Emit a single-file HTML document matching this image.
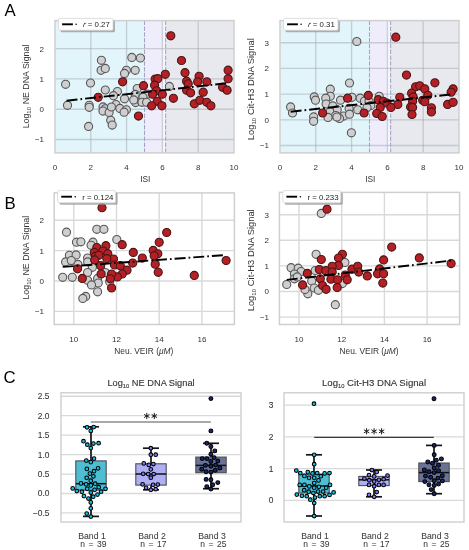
<!DOCTYPE html>
<html><head><meta charset="utf-8"><style>
html,body{margin:0;padding:0;background:#fff;width:469px;height:550px;overflow:hidden}
text{font-family:"Liberation Sans", sans-serif}
</style></head><body>
<svg width="469" height="550" viewBox="0 0 469 550" style="display:block;filter:blur(0.4px)" font-family='"Liberation Sans", sans-serif'>
<rect width="469" height="550" fill="#fff"/>
<text x="4.6" y="15.8" font-size="16.8" fill="#000">A</text>
<text x="4.6" y="209.0" font-size="16.8" fill="#000">B</text>
<text x="3.6" y="383.4" font-size="16.8" fill="#000">C</text>
<rect x="55" y="20.6" width="89.5" height="132.3" fill="#e1f5fa"/>
<rect x="144.5" y="20.6" width="17.9" height="132.3" fill="#efedfc"/>
<rect x="162.4" y="20.6" width="3.22" height="132.3" fill="#f7f6fd"/>
<rect x="165.62" y="20.6" width="68.38" height="132.3" fill="#e7e9ee"/>
<line x1="90.8" y1="20.6" x2="90.8" y2="152.9" stroke="#979ca3" stroke-opacity="0.42" stroke-width="1.35"/>
<line x1="126.6" y1="20.6" x2="126.6" y2="152.9" stroke="#979ca3" stroke-opacity="0.42" stroke-width="1.35"/>
<line x1="162.4" y1="20.6" x2="162.4" y2="152.9" stroke="#979ca3" stroke-opacity="0.42" stroke-width="1.35"/>
<line x1="198.2" y1="20.6" x2="198.2" y2="152.9" stroke="#979ca3" stroke-opacity="0.42" stroke-width="1.35"/>
<line x1="55" y1="48.6" x2="234" y2="48.6" stroke="#979ca3" stroke-opacity="0.42" stroke-width="1.35"/>
<line x1="55" y1="78.9" x2="234" y2="78.9" stroke="#979ca3" stroke-opacity="0.42" stroke-width="1.35"/>
<line x1="55" y1="109.2" x2="234" y2="109.2" stroke="#979ca3" stroke-opacity="0.42" stroke-width="1.35"/>
<line x1="55" y1="139.5" x2="234" y2="139.5" stroke="#979ca3" stroke-opacity="0.42" stroke-width="1.35"/>
<line x1="144.5" y1="20.6" x2="144.5" y2="152.9" stroke="#a2a5c6" stroke-width="1.05" stroke-dasharray="4.5 1.3"/>
<line x1="165.62" y1="20.6" x2="165.62" y2="152.9" stroke="#a2a5c6" stroke-width="1.05" stroke-dasharray="4.5 1.3"/>
<rect x="55" y="20.6" width="179" height="132.3" fill="none" stroke="#cfcfcf" stroke-width="1.5"/>
<circle cx="101.4" cy="60.3" r="4.05" fill="#cfcfd1" stroke="#575757" stroke-width="1.1"/>
<circle cx="101.1" cy="70.3" r="4.05" fill="#cfcfd1" stroke="#575757" stroke-width="1.1"/>
<circle cx="105.3" cy="68.4" r="4.05" fill="#cfcfd1" stroke="#575757" stroke-width="1.1"/>
<circle cx="131.8" cy="57.4" r="4.05" fill="#cfcfd1" stroke="#575757" stroke-width="1.1"/>
<circle cx="140.4" cy="58" r="4.05" fill="#cfcfd1" stroke="#575757" stroke-width="1.1"/>
<circle cx="126.4" cy="70.3" r="4.05" fill="#cfcfd1" stroke="#575757" stroke-width="1.1"/>
<circle cx="124.5" cy="73.4" r="4.05" fill="#cfcfd1" stroke="#575757" stroke-width="1.1"/>
<circle cx="135.2" cy="70.3" r="4.05" fill="#cfcfd1" stroke="#575757" stroke-width="1.1"/>
<circle cx="65.6" cy="84.3" r="4.05" fill="#cfcfd1" stroke="#575757" stroke-width="1.1"/>
<circle cx="90.5" cy="83" r="4.05" fill="#cfcfd1" stroke="#575757" stroke-width="1.1"/>
<circle cx="105.3" cy="90" r="4.05" fill="#cfcfd1" stroke="#575757" stroke-width="1.1"/>
<circle cx="117.4" cy="91.5" r="4.05" fill="#cfcfd1" stroke="#575757" stroke-width="1.1"/>
<circle cx="113.5" cy="95.7" r="4.05" fill="#cfcfd1" stroke="#575757" stroke-width="1.1"/>
<circle cx="137.2" cy="88.6" r="4.05" fill="#cfcfd1" stroke="#575757" stroke-width="1.1"/>
<circle cx="135.2" cy="94.4" r="4.05" fill="#cfcfd1" stroke="#575757" stroke-width="1.1"/>
<circle cx="124.5" cy="98.8" r="4.05" fill="#cfcfd1" stroke="#575757" stroke-width="1.1"/>
<circle cx="143.7" cy="96.3" r="4.05" fill="#cfcfd1" stroke="#575757" stroke-width="1.1"/>
<circle cx="67.5" cy="105.3" r="4.05" fill="#cfcfd1" stroke="#575757" stroke-width="1.1"/>
<circle cx="89.2" cy="105.3" r="4.05" fill="#cfcfd1" stroke="#575757" stroke-width="1.1"/>
<circle cx="89.2" cy="107.3" r="4.05" fill="#cfcfd1" stroke="#575757" stroke-width="1.1"/>
<circle cx="103" cy="106.9" r="4.05" fill="#cfcfd1" stroke="#575757" stroke-width="1.1"/>
<circle cx="105.3" cy="108.8" r="4.05" fill="#cfcfd1" stroke="#575757" stroke-width="1.1"/>
<circle cx="103" cy="111.1" r="4.05" fill="#cfcfd1" stroke="#575757" stroke-width="1.1"/>
<circle cx="109.1" cy="112.6" r="4.05" fill="#cfcfd1" stroke="#575757" stroke-width="1.1"/>
<circle cx="116" cy="104.6" r="4.05" fill="#cfcfd1" stroke="#575757" stroke-width="1.1"/>
<circle cx="119.9" cy="108.4" r="4.05" fill="#cfcfd1" stroke="#575757" stroke-width="1.1"/>
<circle cx="126.4" cy="109.8" r="4.05" fill="#cfcfd1" stroke="#575757" stroke-width="1.1"/>
<circle cx="124.1" cy="112.2" r="4.05" fill="#cfcfd1" stroke="#575757" stroke-width="1.1"/>
<circle cx="135.6" cy="102.6" r="4.05" fill="#cfcfd1" stroke="#575757" stroke-width="1.1"/>
<circle cx="141.4" cy="101.5" r="4.05" fill="#cfcfd1" stroke="#575757" stroke-width="1.1"/>
<circle cx="110.7" cy="120.3" r="4.05" fill="#cfcfd1" stroke="#575757" stroke-width="1.1"/>
<circle cx="112.2" cy="125.1" r="4.05" fill="#cfcfd1" stroke="#575757" stroke-width="1.1"/>
<circle cx="88.6" cy="126.4" r="4.05" fill="#cfcfd1" stroke="#575757" stroke-width="1.1"/>
<circle cx="169.4" cy="86.4" r="4.05" fill="#cfcfd1" stroke="#575757" stroke-width="1.1"/>
<circle cx="147.1" cy="94.2" r="4.05" fill="#cfcfd1" stroke="#575757" stroke-width="1.1"/>
<circle cx="143" cy="97.3" r="4.05" fill="#cfcfd1" stroke="#575757" stroke-width="1.1"/>
<circle cx="142" cy="102.3" r="4.05" fill="#cfcfd1" stroke="#575757" stroke-width="1.1"/>
<circle cx="133.7" cy="99.9" r="4.05" fill="#cfcfd1" stroke="#575757" stroke-width="1.1"/>
<circle cx="111.4" cy="107" r="4.05" fill="#cfcfd1" stroke="#575757" stroke-width="1.1"/>
<circle cx="146.6" cy="102.3" r="4.05" fill="#cfcfd1" stroke="#575757" stroke-width="1.1"/>
<circle cx="122.6" cy="81.8" r="4.05" fill="#b52026" stroke="#481616" stroke-width="1.1"/>
<circle cx="143.5" cy="85.7" r="4.05" fill="#b52026" stroke="#481616" stroke-width="1.1"/>
<circle cx="98.2" cy="97.3" r="4.05" fill="#b52026" stroke="#481616" stroke-width="1.1"/>
<circle cx="138.5" cy="116.1" r="4.05" fill="#b52026" stroke="#481616" stroke-width="1.1"/>
<circle cx="170.8" cy="35.8" r="4.05" fill="#b52026" stroke="#481616" stroke-width="1.1"/>
<circle cx="181.5" cy="60.5" r="4.05" fill="#b52026" stroke="#481616" stroke-width="1.1"/>
<circle cx="185" cy="72.7" r="4.05" fill="#b52026" stroke="#481616" stroke-width="1.1"/>
<circle cx="165.3" cy="74.3" r="4.05" fill="#b52026" stroke="#481616" stroke-width="1.1"/>
<circle cx="155.2" cy="79.1" r="4.05" fill="#b52026" stroke="#481616" stroke-width="1.1"/>
<circle cx="157.8" cy="78.7" r="4.05" fill="#b52026" stroke="#481616" stroke-width="1.1"/>
<circle cx="199.1" cy="76.3" r="4.05" fill="#b52026" stroke="#481616" stroke-width="1.1"/>
<circle cx="228.1" cy="70.2" r="4.05" fill="#b52026" stroke="#481616" stroke-width="1.1"/>
<circle cx="228.1" cy="78.7" r="4.05" fill="#b52026" stroke="#481616" stroke-width="1.1"/>
<circle cx="186.6" cy="81.2" r="4.05" fill="#b52026" stroke="#481616" stroke-width="1.1"/>
<circle cx="188.2" cy="83.8" r="4.05" fill="#b52026" stroke="#481616" stroke-width="1.1"/>
<circle cx="197.7" cy="81.8" r="4.05" fill="#b52026" stroke="#481616" stroke-width="1.1"/>
<circle cx="206.8" cy="81.8" r="4.05" fill="#b52026" stroke="#481616" stroke-width="1.1"/>
<circle cx="154.6" cy="85.2" r="4.05" fill="#b52026" stroke="#481616" stroke-width="1.1"/>
<circle cx="222.6" cy="87.3" r="4.05" fill="#b52026" stroke="#481616" stroke-width="1.1"/>
<circle cx="227.1" cy="90.2" r="4.05" fill="#b52026" stroke="#481616" stroke-width="1.1"/>
<circle cx="156.6" cy="90.8" r="4.05" fill="#b52026" stroke="#481616" stroke-width="1.1"/>
<circle cx="162.3" cy="94.2" r="4.05" fill="#b52026" stroke="#481616" stroke-width="1.1"/>
<circle cx="152.6" cy="94.2" r="4.05" fill="#b52026" stroke="#481616" stroke-width="1.1"/>
<circle cx="186.6" cy="90.2" r="4.05" fill="#b52026" stroke="#481616" stroke-width="1.1"/>
<circle cx="190.6" cy="92.8" r="4.05" fill="#b52026" stroke="#481616" stroke-width="1.1"/>
<circle cx="203.2" cy="92.2" r="4.05" fill="#b52026" stroke="#481616" stroke-width="1.1"/>
<circle cx="173.4" cy="98.3" r="4.05" fill="#b52026" stroke="#481616" stroke-width="1.1"/>
<circle cx="157.2" cy="101.3" r="4.05" fill="#b52026" stroke="#481616" stroke-width="1.1"/>
<circle cx="151.7" cy="105.8" r="4.05" fill="#b52026" stroke="#481616" stroke-width="1.1"/>
<circle cx="161.9" cy="105.8" r="4.05" fill="#b52026" stroke="#481616" stroke-width="1.1"/>
<circle cx="194.3" cy="103.8" r="4.05" fill="#b52026" stroke="#481616" stroke-width="1.1"/>
<circle cx="199.8" cy="100.3" r="4.05" fill="#b52026" stroke="#481616" stroke-width="1.1"/>
<circle cx="206.8" cy="102.3" r="4.05" fill="#b52026" stroke="#481616" stroke-width="1.1"/>
<circle cx="210.9" cy="105.8" r="4.05" fill="#b52026" stroke="#481616" stroke-width="1.1"/>
<line x1="66.5" y1="100.7" x2="228.1" y2="83.1" stroke="#000" stroke-width="1.9" stroke-dasharray="11 3 1.7 3"/>
<rect x="60.5" y="20.4" width="54.5" height="11.8" rx="1.5" fill="#a0a0a0" opacity="0.85"/>
<rect x="58.5" y="18.4" width="54.5" height="11.8" rx="1.5" fill="#ffffff" stroke="#d5d5d5" stroke-width="0.8"/>
<line x1="62.1" y1="24.3" x2="72.9" y2="24.3" stroke="#000" stroke-width="1.9"/>
<circle cx="76.1" cy="24.3" r="0.8" fill="#000"/>
<text x="0" y="0" font-size="7.8" fill="#222" font-style="italic" transform="translate(82.7,27) skewX(-8)">r</text>
<text x="85.7" y="27.1" font-size="7.8" fill="#222" xml:space="preserve"> = 0.27</text>
<text x="44" y="51.5" font-size="8.0" fill="#333" text-anchor="end">2</text>
<text x="44" y="81.8" font-size="8.0" fill="#333" text-anchor="end">1</text>
<text x="44" y="112.1" font-size="8.0" fill="#333" text-anchor="end">0</text>
<text x="44" y="142.4" font-size="8.0" fill="#333" text-anchor="end">−1</text>
<text x="55" y="169.85" font-size="8.0" fill="#333" text-anchor="middle">0</text>
<text x="90.8" y="169.85" font-size="8.0" fill="#333" text-anchor="middle">2</text>
<text x="126.6" y="169.85" font-size="8.0" fill="#333" text-anchor="middle">4</text>
<text x="162.4" y="169.85" font-size="8.0" fill="#333" text-anchor="middle">6</text>
<text x="198.2" y="169.85" font-size="8.0" fill="#333" text-anchor="middle">8</text>
<text x="234" y="169.85" font-size="8.0" fill="#333" text-anchor="middle">10</text>
<text x="145.3" y="182" font-size="8.4" fill="#333" text-anchor="middle">ISI</text>
<text x="0" y="0" font-size="8.8" fill="#333" text-anchor="middle" transform="translate(28.6,86.5) rotate(-90)">Log<tspan font-size="6.2" dy="1.9">10</tspan><tspan dy="-1.9"> </tspan>NE DNA Signal</text>
<rect x="280" y="20.6" width="89.5" height="132.3" fill="#e1f5fa"/>
<rect x="369.5" y="20.6" width="17.9" height="132.3" fill="#efedfc"/>
<rect x="387.4" y="20.6" width="3.22" height="132.3" fill="#f7f6fd"/>
<rect x="390.62" y="20.6" width="68.38" height="132.3" fill="#e7e9ee"/>
<line x1="315.8" y1="20.6" x2="315.8" y2="152.9" stroke="#979ca3" stroke-opacity="0.42" stroke-width="1.35"/>
<line x1="351.6" y1="20.6" x2="351.6" y2="152.9" stroke="#979ca3" stroke-opacity="0.42" stroke-width="1.35"/>
<line x1="387.4" y1="20.6" x2="387.4" y2="152.9" stroke="#979ca3" stroke-opacity="0.42" stroke-width="1.35"/>
<line x1="423.2" y1="20.6" x2="423.2" y2="152.9" stroke="#979ca3" stroke-opacity="0.42" stroke-width="1.35"/>
<line x1="280" y1="42.7" x2="459" y2="42.7" stroke="#979ca3" stroke-opacity="0.42" stroke-width="1.35"/>
<line x1="280" y1="68.4" x2="459" y2="68.4" stroke="#979ca3" stroke-opacity="0.42" stroke-width="1.35"/>
<line x1="280" y1="94.1" x2="459" y2="94.1" stroke="#979ca3" stroke-opacity="0.42" stroke-width="1.35"/>
<line x1="280" y1="119.8" x2="459" y2="119.8" stroke="#979ca3" stroke-opacity="0.42" stroke-width="1.35"/>
<line x1="280" y1="145.5" x2="459" y2="145.5" stroke="#979ca3" stroke-opacity="0.42" stroke-width="1.35"/>
<line x1="369.5" y1="20.6" x2="369.5" y2="152.9" stroke="#a2a5c6" stroke-width="1.05" stroke-dasharray="4.5 1.3"/>
<line x1="390.62" y1="20.6" x2="390.62" y2="152.9" stroke="#a2a5c6" stroke-width="1.05" stroke-dasharray="4.5 1.3"/>
<rect x="280" y="20.6" width="179" height="132.3" fill="none" stroke="#cfcfcf" stroke-width="1.5"/>
<circle cx="356.8" cy="41.5" r="4.05" fill="#cfcfd1" stroke="#575757" stroke-width="1.1"/>
<circle cx="349.5" cy="83" r="4.05" fill="#cfcfd1" stroke="#575757" stroke-width="1.1"/>
<circle cx="330.3" cy="89.2" r="4.05" fill="#cfcfd1" stroke="#575757" stroke-width="1.1"/>
<circle cx="330.3" cy="96.3" r="4.05" fill="#cfcfd1" stroke="#575757" stroke-width="1.1"/>
<circle cx="325.7" cy="98.2" r="4.05" fill="#cfcfd1" stroke="#575757" stroke-width="1.1"/>
<circle cx="314.2" cy="96.9" r="4.05" fill="#cfcfd1" stroke="#575757" stroke-width="1.1"/>
<circle cx="315.5" cy="100.2" r="4.05" fill="#cfcfd1" stroke="#575757" stroke-width="1.1"/>
<circle cx="290.6" cy="106.9" r="4.05" fill="#cfcfd1" stroke="#575757" stroke-width="1.1"/>
<circle cx="292.5" cy="113" r="4.05" fill="#cfcfd1" stroke="#575757" stroke-width="1.1"/>
<circle cx="326.1" cy="104" r="4.05" fill="#cfcfd1" stroke="#575757" stroke-width="1.1"/>
<circle cx="332.8" cy="105.9" r="4.05" fill="#cfcfd1" stroke="#575757" stroke-width="1.1"/>
<circle cx="340.5" cy="100.2" r="4.05" fill="#cfcfd1" stroke="#575757" stroke-width="1.1"/>
<circle cx="352" cy="97.3" r="4.05" fill="#cfcfd1" stroke="#575757" stroke-width="1.1"/>
<circle cx="360.2" cy="98.2" r="4.05" fill="#cfcfd1" stroke="#575757" stroke-width="1.1"/>
<circle cx="364.5" cy="101.1" r="4.05" fill="#cfcfd1" stroke="#575757" stroke-width="1.1"/>
<circle cx="337.2" cy="109.8" r="4.05" fill="#cfcfd1" stroke="#575757" stroke-width="1.1"/>
<circle cx="349.1" cy="108.4" r="4.05" fill="#cfcfd1" stroke="#575757" stroke-width="1.1"/>
<circle cx="357.7" cy="109.8" r="4.05" fill="#cfcfd1" stroke="#575757" stroke-width="1.1"/>
<circle cx="329.9" cy="111.7" r="4.05" fill="#cfcfd1" stroke="#575757" stroke-width="1.1"/>
<circle cx="335.7" cy="115.5" r="4.05" fill="#cfcfd1" stroke="#575757" stroke-width="1.1"/>
<circle cx="343.7" cy="116.1" r="4.05" fill="#cfcfd1" stroke="#575757" stroke-width="1.1"/>
<circle cx="349.5" cy="114.2" r="4.05" fill="#cfcfd1" stroke="#575757" stroke-width="1.1"/>
<circle cx="328" cy="117.4" r="4.05" fill="#cfcfd1" stroke="#575757" stroke-width="1.1"/>
<circle cx="339.5" cy="118.4" r="4.05" fill="#cfcfd1" stroke="#575757" stroke-width="1.1"/>
<circle cx="313.6" cy="116.9" r="4.05" fill="#cfcfd1" stroke="#575757" stroke-width="1.1"/>
<circle cx="313.6" cy="121.3" r="4.05" fill="#cfcfd1" stroke="#575757" stroke-width="1.1"/>
<circle cx="351.4" cy="132.8" r="4.05" fill="#cfcfd1" stroke="#575757" stroke-width="1.1"/>
<circle cx="379.2" cy="96.3" r="4.05" fill="#cfcfd1" stroke="#575757" stroke-width="1.1"/>
<circle cx="369" cy="101.3" r="4.05" fill="#cfcfd1" stroke="#575757" stroke-width="1.1"/>
<circle cx="336.9" cy="117.1" r="4.05" fill="#cfcfd1" stroke="#575757" stroke-width="1.1"/>
<circle cx="370.8" cy="105.6" r="4.05" fill="#cfcfd1" stroke="#575757" stroke-width="1.1"/>
<circle cx="367" cy="107.5" r="4.05" fill="#cfcfd1" stroke="#575757" stroke-width="1.1"/>
<circle cx="347.6" cy="98.2" r="4.05" fill="#b52026" stroke="#481616" stroke-width="1.1"/>
<circle cx="368.3" cy="95.4" r="4.05" fill="#b52026" stroke="#481616" stroke-width="1.1"/>
<circle cx="322.6" cy="113" r="4.05" fill="#b52026" stroke="#481616" stroke-width="1.1"/>
<circle cx="364.1" cy="113" r="4.05" fill="#b52026" stroke="#481616" stroke-width="1.1"/>
<circle cx="395.8" cy="37.2" r="4.05" fill="#b52026" stroke="#481616" stroke-width="1.1"/>
<circle cx="406.5" cy="75.1" r="4.05" fill="#b52026" stroke="#481616" stroke-width="1.1"/>
<circle cx="434.9" cy="82.8" r="4.05" fill="#b52026" stroke="#481616" stroke-width="1.1"/>
<circle cx="415.6" cy="86.8" r="4.05" fill="#b52026" stroke="#481616" stroke-width="1.1"/>
<circle cx="419.7" cy="85.8" r="4.05" fill="#b52026" stroke="#481616" stroke-width="1.1"/>
<circle cx="424.8" cy="88.9" r="4.05" fill="#b52026" stroke="#481616" stroke-width="1.1"/>
<circle cx="453.1" cy="88.9" r="4.05" fill="#b52026" stroke="#481616" stroke-width="1.1"/>
<circle cx="451.1" cy="92.2" r="4.05" fill="#b52026" stroke="#481616" stroke-width="1.1"/>
<circle cx="378.2" cy="99.7" r="4.05" fill="#b52026" stroke="#481616" stroke-width="1.1"/>
<circle cx="383.2" cy="101.3" r="4.05" fill="#b52026" stroke="#481616" stroke-width="1.1"/>
<circle cx="386.9" cy="103" r="4.05" fill="#b52026" stroke="#481616" stroke-width="1.1"/>
<circle cx="399.8" cy="97.3" r="4.05" fill="#b52026" stroke="#481616" stroke-width="1.1"/>
<circle cx="397.8" cy="104.4" r="4.05" fill="#b52026" stroke="#481616" stroke-width="1.1"/>
<circle cx="390.9" cy="107.4" r="4.05" fill="#b52026" stroke="#481616" stroke-width="1.1"/>
<circle cx="380.2" cy="107.4" r="4.05" fill="#b52026" stroke="#481616" stroke-width="1.1"/>
<circle cx="376.7" cy="113.5" r="4.05" fill="#b52026" stroke="#481616" stroke-width="1.1"/>
<circle cx="382.2" cy="116.5" r="4.05" fill="#b52026" stroke="#481616" stroke-width="1.1"/>
<circle cx="411.6" cy="93.2" r="4.05" fill="#b52026" stroke="#481616" stroke-width="1.1"/>
<circle cx="413.2" cy="96.9" r="4.05" fill="#b52026" stroke="#481616" stroke-width="1.1"/>
<circle cx="412.6" cy="101.3" r="4.05" fill="#b52026" stroke="#481616" stroke-width="1.1"/>
<circle cx="410.6" cy="107" r="4.05" fill="#b52026" stroke="#481616" stroke-width="1.1"/>
<circle cx="412.6" cy="107.4" r="4.05" fill="#b52026" stroke="#481616" stroke-width="1.1"/>
<circle cx="412" cy="114.5" r="4.05" fill="#b52026" stroke="#481616" stroke-width="1.1"/>
<circle cx="427.8" cy="95.3" r="4.05" fill="#b52026" stroke="#481616" stroke-width="1.1"/>
<circle cx="422.7" cy="100.3" r="4.05" fill="#b52026" stroke="#481616" stroke-width="1.1"/>
<circle cx="424.8" cy="101.7" r="4.05" fill="#b52026" stroke="#481616" stroke-width="1.1"/>
<circle cx="431.4" cy="107.8" r="4.05" fill="#b52026" stroke="#481616" stroke-width="1.1"/>
<circle cx="431.4" cy="111.9" r="4.05" fill="#b52026" stroke="#481616" stroke-width="1.1"/>
<circle cx="447.6" cy="104.4" r="4.05" fill="#b52026" stroke="#481616" stroke-width="1.1"/>
<circle cx="453.1" cy="102.3" r="4.05" fill="#b52026" stroke="#481616" stroke-width="1.1"/>
<line x1="290.6" y1="111.7" x2="453.1" y2="94.2" stroke="#000" stroke-width="1.9" stroke-dasharray="11 3 1.7 3"/>
<rect x="285.5" y="20.4" width="54.5" height="11.8" rx="1.5" fill="#a0a0a0" opacity="0.85"/>
<rect x="283.5" y="18.4" width="54.5" height="11.8" rx="1.5" fill="#ffffff" stroke="#d5d5d5" stroke-width="0.8"/>
<line x1="287.1" y1="24.3" x2="297.9" y2="24.3" stroke="#000" stroke-width="1.9"/>
<circle cx="301.1" cy="24.3" r="0.8" fill="#000"/>
<text x="0" y="0" font-size="7.8" fill="#222" font-style="italic" transform="translate(307.7,27) skewX(-8)">r</text>
<text x="310.7" y="27.1" font-size="7.8" fill="#222" xml:space="preserve"> = 0.31</text>
<text x="269" y="45.6" font-size="8.0" fill="#333" text-anchor="end">3</text>
<text x="269" y="71.3" font-size="8.0" fill="#333" text-anchor="end">2</text>
<text x="269" y="97" font-size="8.0" fill="#333" text-anchor="end">1</text>
<text x="269" y="122.7" font-size="8.0" fill="#333" text-anchor="end">0</text>
<text x="269" y="148.4" font-size="8.0" fill="#333" text-anchor="end">−1</text>
<text x="280" y="169.85" font-size="8.0" fill="#333" text-anchor="middle">0</text>
<text x="315.8" y="169.85" font-size="8.0" fill="#333" text-anchor="middle">2</text>
<text x="351.6" y="169.85" font-size="8.0" fill="#333" text-anchor="middle">4</text>
<text x="387.4" y="169.85" font-size="8.0" fill="#333" text-anchor="middle">6</text>
<text x="423.2" y="169.85" font-size="8.0" fill="#333" text-anchor="middle">8</text>
<text x="459" y="169.85" font-size="8.0" fill="#333" text-anchor="middle">10</text>
<text x="370.3" y="182" font-size="8.4" fill="#333" text-anchor="middle">ISI</text>
<text x="0" y="0" font-size="9.35" fill="#333" text-anchor="middle" transform="translate(253.8,89.2) rotate(-90)">Log<tspan font-size="6.2" dy="1.9">10</tspan><tspan dy="-1.9"> </tspan>Cit-H3 DNA Signal</text>
<rect x="54.2" y="192.9" width="180.2" height="131.6" fill="#ffffff"/>
<line x1="73.8" y1="192.9" x2="73.8" y2="324.5" stroke="#d9d9d9" stroke-width="1.4"/>
<line x1="116.5" y1="192.9" x2="116.5" y2="324.5" stroke="#d9d9d9" stroke-width="1.4"/>
<line x1="159.2" y1="192.9" x2="159.2" y2="324.5" stroke="#d9d9d9" stroke-width="1.4"/>
<line x1="201.9" y1="192.9" x2="201.9" y2="324.5" stroke="#d9d9d9" stroke-width="1.4"/>
<line x1="54.2" y1="220.2" x2="234.4" y2="220.2" stroke="#d9d9d9" stroke-width="1.4"/>
<line x1="54.2" y1="250.6" x2="234.4" y2="250.6" stroke="#d9d9d9" stroke-width="1.4"/>
<line x1="54.2" y1="281" x2="234.4" y2="281" stroke="#d9d9d9" stroke-width="1.4"/>
<line x1="54.2" y1="311.4" x2="234.4" y2="311.4" stroke="#d9d9d9" stroke-width="1.4"/>
<rect x="54.2" y="192.9" width="180.2" height="131.6" fill="none" stroke="#cfcfcf" stroke-width="1.5"/>
<circle cx="96.8" cy="229.3" r="4.05" fill="#cfcfd1" stroke="#575757" stroke-width="1.1"/>
<circle cx="103.9" cy="229.3" r="4.05" fill="#cfcfd1" stroke="#575757" stroke-width="1.1"/>
<circle cx="66.5" cy="232.2" r="4.05" fill="#cfcfd1" stroke="#575757" stroke-width="1.1"/>
<circle cx="76.5" cy="242.2" r="4.05" fill="#cfcfd1" stroke="#575757" stroke-width="1.1"/>
<circle cx="80.9" cy="241.8" r="4.05" fill="#cfcfd1" stroke="#575757" stroke-width="1.1"/>
<circle cx="93" cy="242.2" r="4.05" fill="#cfcfd1" stroke="#575757" stroke-width="1.1"/>
<circle cx="91.1" cy="245.3" r="4.05" fill="#cfcfd1" stroke="#575757" stroke-width="1.1"/>
<circle cx="116.8" cy="239.5" r="4.05" fill="#cfcfd1" stroke="#575757" stroke-width="1.1"/>
<circle cx="69.4" cy="255.3" r="4.05" fill="#cfcfd1" stroke="#575757" stroke-width="1.1"/>
<circle cx="76.1" cy="254.9" r="4.05" fill="#cfcfd1" stroke="#575757" stroke-width="1.1"/>
<circle cx="87.6" cy="258.1" r="4.05" fill="#cfcfd1" stroke="#575757" stroke-width="1.1"/>
<circle cx="65.6" cy="261.9" r="4.05" fill="#cfcfd1" stroke="#575757" stroke-width="1.1"/>
<circle cx="71.3" cy="260.6" r="4.05" fill="#cfcfd1" stroke="#575757" stroke-width="1.1"/>
<circle cx="78" cy="264.4" r="4.05" fill="#cfcfd1" stroke="#575757" stroke-width="1.1"/>
<circle cx="92.4" cy="267.3" r="4.05" fill="#cfcfd1" stroke="#575757" stroke-width="1.1"/>
<circle cx="105.3" cy="272.6" r="4.05" fill="#cfcfd1" stroke="#575757" stroke-width="1.1"/>
<circle cx="87.6" cy="272.6" r="4.05" fill="#cfcfd1" stroke="#575757" stroke-width="1.1"/>
<circle cx="62.7" cy="277.3" r="4.05" fill="#cfcfd1" stroke="#575757" stroke-width="1.1"/>
<circle cx="72.3" cy="277.3" r="4.05" fill="#cfcfd1" stroke="#575757" stroke-width="1.1"/>
<circle cx="87.6" cy="280.3" r="4.05" fill="#cfcfd1" stroke="#575757" stroke-width="1.1"/>
<circle cx="97.6" cy="278.4" r="4.05" fill="#cfcfd1" stroke="#575757" stroke-width="1.1"/>
<circle cx="98.2" cy="283" r="4.05" fill="#cfcfd1" stroke="#575757" stroke-width="1.1"/>
<circle cx="91.5" cy="284.9" r="4.05" fill="#cfcfd1" stroke="#575757" stroke-width="1.1"/>
<circle cx="109.7" cy="281.7" r="4.05" fill="#cfcfd1" stroke="#575757" stroke-width="1.1"/>
<circle cx="97.6" cy="291.8" r="4.05" fill="#cfcfd1" stroke="#575757" stroke-width="1.1"/>
<circle cx="85.7" cy="296.4" r="4.05" fill="#cfcfd1" stroke="#575757" stroke-width="1.1"/>
<circle cx="82.8" cy="298.4" r="4.05" fill="#cfcfd1" stroke="#575757" stroke-width="1.1"/>
<circle cx="87.7" cy="261.9" r="4.05" fill="#cfcfd1" stroke="#575757" stroke-width="1.1"/>
<circle cx="102" cy="207.7" r="4.05" fill="#b52026" stroke="#481616" stroke-width="1.1"/>
<circle cx="122.2" cy="244.7" r="4.05" fill="#b52026" stroke="#481616" stroke-width="1.1"/>
<circle cx="96.8" cy="247.6" r="4.05" fill="#b52026" stroke="#481616" stroke-width="1.1"/>
<circle cx="105.9" cy="245.7" r="4.05" fill="#b52026" stroke="#481616" stroke-width="1.1"/>
<circle cx="94.3" cy="252.4" r="4.05" fill="#b52026" stroke="#481616" stroke-width="1.1"/>
<circle cx="103" cy="251" r="4.05" fill="#b52026" stroke="#481616" stroke-width="1.1"/>
<circle cx="107.8" cy="253.7" r="4.05" fill="#b52026" stroke="#481616" stroke-width="1.1"/>
<circle cx="133.3" cy="252.4" r="4.05" fill="#b52026" stroke="#481616" stroke-width="1.1"/>
<circle cx="95.3" cy="256.2" r="4.05" fill="#b52026" stroke="#481616" stroke-width="1.1"/>
<circle cx="98.8" cy="255.3" r="4.05" fill="#b52026" stroke="#481616" stroke-width="1.1"/>
<circle cx="142.3" cy="258.1" r="4.05" fill="#b52026" stroke="#481616" stroke-width="1.1"/>
<circle cx="113.5" cy="259.1" r="4.05" fill="#b52026" stroke="#481616" stroke-width="1.1"/>
<circle cx="106.8" cy="258.7" r="4.05" fill="#b52026" stroke="#481616" stroke-width="1.1"/>
<circle cx="94.7" cy="259.9" r="4.05" fill="#b52026" stroke="#481616" stroke-width="1.1"/>
<circle cx="77.6" cy="268.8" r="4.05" fill="#b52026" stroke="#481616" stroke-width="1.1"/>
<circle cx="100.7" cy="265.7" r="4.05" fill="#b52026" stroke="#481616" stroke-width="1.1"/>
<circle cx="114.5" cy="265" r="4.05" fill="#b52026" stroke="#481616" stroke-width="1.1"/>
<circle cx="120.3" cy="265.7" r="4.05" fill="#b52026" stroke="#481616" stroke-width="1.1"/>
<circle cx="132.7" cy="263.1" r="4.05" fill="#b52026" stroke="#481616" stroke-width="1.1"/>
<circle cx="127" cy="270.2" r="4.05" fill="#b52026" stroke="#481616" stroke-width="1.1"/>
<circle cx="122.2" cy="274" r="4.05" fill="#b52026" stroke="#481616" stroke-width="1.1"/>
<circle cx="117.4" cy="276.9" r="4.05" fill="#b52026" stroke="#481616" stroke-width="1.1"/>
<circle cx="111.6" cy="274" r="4.05" fill="#b52026" stroke="#481616" stroke-width="1.1"/>
<circle cx="110.3" cy="278.8" r="4.05" fill="#b52026" stroke="#481616" stroke-width="1.1"/>
<circle cx="101.1" cy="274" r="4.05" fill="#b52026" stroke="#481616" stroke-width="1.1"/>
<circle cx="82.3" cy="278.4" r="4.05" fill="#b52026" stroke="#481616" stroke-width="1.1"/>
<circle cx="111.6" cy="288" r="4.05" fill="#b52026" stroke="#481616" stroke-width="1.1"/>
<circle cx="166.7" cy="232.5" r="4.05" fill="#b52026" stroke="#481616" stroke-width="1.1"/>
<circle cx="159.2" cy="242.3" r="4.05" fill="#b52026" stroke="#481616" stroke-width="1.1"/>
<circle cx="153.2" cy="250.4" r="4.05" fill="#b52026" stroke="#481616" stroke-width="1.1"/>
<circle cx="157.8" cy="253.8" r="4.05" fill="#b52026" stroke="#481616" stroke-width="1.1"/>
<circle cx="154.2" cy="255.8" r="4.05" fill="#b52026" stroke="#481616" stroke-width="1.1"/>
<circle cx="226.1" cy="260.5" r="4.05" fill="#b52026" stroke="#481616" stroke-width="1.1"/>
<circle cx="155.2" cy="264.2" r="4.05" fill="#b52026" stroke="#481616" stroke-width="1.1"/>
<circle cx="158.2" cy="272.3" r="4.05" fill="#b52026" stroke="#481616" stroke-width="1.1"/>
<circle cx="194.3" cy="275.4" r="4.05" fill="#b52026" stroke="#481616" stroke-width="1.1"/>
<line x1="62.7" y1="266.9" x2="224.5" y2="255.1" stroke="#000" stroke-width="1.9" stroke-dasharray="11 3 1.7 3"/>
<rect x="59.6" y="192.6" width="58" height="12.2" rx="1.5" fill="#a0a0a0" opacity="0.85"/>
<rect x="57.6" y="190.6" width="58" height="12.2" rx="1.5" fill="#ffffff" stroke="#d5d5d5" stroke-width="0.8"/>
<line x1="61.2" y1="196.7" x2="72" y2="196.7" stroke="#000" stroke-width="1.9"/>
<circle cx="75.2" cy="196.7" r="0.8" fill="#000"/>
<text x="82.2" y="199.5" font-size="7.85" fill="#222">r = 0.124</text>
<text x="44" y="223.1" font-size="8.0" fill="#333" text-anchor="end">2</text>
<text x="44" y="253.5" font-size="8.0" fill="#333" text-anchor="end">1</text>
<text x="44" y="283.9" font-size="8.0" fill="#333" text-anchor="end">0</text>
<text x="44" y="314.3" font-size="8.0" fill="#333" text-anchor="end">−1</text>
<text x="73.8" y="341.85" font-size="8.0" fill="#333" text-anchor="middle">10</text>
<text x="116.5" y="341.85" font-size="8.0" fill="#333" text-anchor="middle">12</text>
<text x="159.2" y="341.85" font-size="8.0" fill="#333" text-anchor="middle">14</text>
<text x="201.9" y="341.85" font-size="8.0" fill="#333" text-anchor="middle">16</text>
<text x="143.8" y="354.2" font-size="8.4" fill="#333" text-anchor="middle">Neu. VEIR (<tspan font-style="italic">μM</tspan>)</text>
<text x="0" y="0" font-size="8.8" fill="#333" text-anchor="middle" transform="translate(28.6,257.7) rotate(-90)">Log<tspan font-size="6.2" dy="1.9">10</tspan><tspan dy="-1.9"> </tspan>NE DNA Signal</text>
<rect x="279.4" y="192.4" width="180.2" height="132.1" fill="#ffffff"/>
<line x1="299" y1="192.4" x2="299" y2="324.5" stroke="#d9d9d9" stroke-width="1.4"/>
<line x1="341.7" y1="192.4" x2="341.7" y2="324.5" stroke="#d9d9d9" stroke-width="1.4"/>
<line x1="384.4" y1="192.4" x2="384.4" y2="324.5" stroke="#d9d9d9" stroke-width="1.4"/>
<line x1="427.1" y1="192.4" x2="427.1" y2="324.5" stroke="#d9d9d9" stroke-width="1.4"/>
<line x1="279.4" y1="214.7" x2="459.6" y2="214.7" stroke="#d9d9d9" stroke-width="1.4"/>
<line x1="279.4" y1="240.3" x2="459.6" y2="240.3" stroke="#d9d9d9" stroke-width="1.4"/>
<line x1="279.4" y1="265.9" x2="459.6" y2="265.9" stroke="#d9d9d9" stroke-width="1.4"/>
<line x1="279.4" y1="291.5" x2="459.6" y2="291.5" stroke="#d9d9d9" stroke-width="1.4"/>
<line x1="279.4" y1="317.1" x2="459.6" y2="317.1" stroke="#d9d9d9" stroke-width="1.4"/>
<rect x="279.4" y="192.4" width="180.2" height="132.1" fill="none" stroke="#cfcfcf" stroke-width="1.5"/>
<circle cx="321.3" cy="213.4" r="4.05" fill="#cfcfd1" stroke="#575757" stroke-width="1.1"/>
<circle cx="316.1" cy="254.3" r="4.05" fill="#cfcfd1" stroke="#575757" stroke-width="1.1"/>
<circle cx="344.9" cy="262.5" r="4.05" fill="#cfcfd1" stroke="#575757" stroke-width="1.1"/>
<circle cx="291.1" cy="267.7" r="4.05" fill="#cfcfd1" stroke="#575757" stroke-width="1.1"/>
<circle cx="298.2" cy="268.2" r="4.05" fill="#cfcfd1" stroke="#575757" stroke-width="1.1"/>
<circle cx="301.1" cy="271.5" r="4.05" fill="#cfcfd1" stroke="#575757" stroke-width="1.1"/>
<circle cx="294.4" cy="274" r="4.05" fill="#cfcfd1" stroke="#575757" stroke-width="1.1"/>
<circle cx="286.7" cy="284.5" r="4.05" fill="#cfcfd1" stroke="#575757" stroke-width="1.1"/>
<circle cx="294.4" cy="278.8" r="4.05" fill="#cfcfd1" stroke="#575757" stroke-width="1.1"/>
<circle cx="311.7" cy="281.1" r="4.05" fill="#cfcfd1" stroke="#575757" stroke-width="1.1"/>
<circle cx="314.2" cy="288" r="4.05" fill="#cfcfd1" stroke="#575757" stroke-width="1.1"/>
<circle cx="307.8" cy="293.8" r="4.05" fill="#cfcfd1" stroke="#575757" stroke-width="1.1"/>
<circle cx="342.4" cy="283.6" r="4.05" fill="#cfcfd1" stroke="#575757" stroke-width="1.1"/>
<circle cx="335.3" cy="304.7" r="4.05" fill="#cfcfd1" stroke="#575757" stroke-width="1.1"/>
<circle cx="318.4" cy="290.3" r="4.05" fill="#cfcfd1" stroke="#575757" stroke-width="1.1"/>
<circle cx="305" cy="289.6" r="4.05" fill="#cfcfd1" stroke="#575757" stroke-width="1.1"/>
<circle cx="315.2" cy="270.5" r="4.05" fill="#cfcfd1" stroke="#575757" stroke-width="1.1"/>
<circle cx="297.3" cy="276.9" r="4.05" fill="#cfcfd1" stroke="#575757" stroke-width="1.1"/>
<circle cx="327" cy="209.2" r="4.05" fill="#b52026" stroke="#481616" stroke-width="1.1"/>
<circle cx="342.4" cy="254.3" r="4.05" fill="#b52026" stroke="#481616" stroke-width="1.1"/>
<circle cx="338.5" cy="258.1" r="4.05" fill="#b52026" stroke="#481616" stroke-width="1.1"/>
<circle cx="321.3" cy="259.5" r="4.05" fill="#b52026" stroke="#481616" stroke-width="1.1"/>
<circle cx="338.5" cy="265.4" r="4.05" fill="#b52026" stroke="#481616" stroke-width="1.1"/>
<circle cx="332.2" cy="266.3" r="4.05" fill="#b52026" stroke="#481616" stroke-width="1.1"/>
<circle cx="307.3" cy="273.4" r="4.05" fill="#b52026" stroke="#481616" stroke-width="1.1"/>
<circle cx="319.3" cy="269.6" r="4.05" fill="#b52026" stroke="#481616" stroke-width="1.1"/>
<circle cx="325.7" cy="270.7" r="4.05" fill="#b52026" stroke="#481616" stroke-width="1.1"/>
<circle cx="332.2" cy="272.1" r="4.05" fill="#b52026" stroke="#481616" stroke-width="1.1"/>
<circle cx="352" cy="269.2" r="4.05" fill="#b52026" stroke="#481616" stroke-width="1.1"/>
<circle cx="357.7" cy="266.3" r="4.05" fill="#b52026" stroke="#481616" stroke-width="1.1"/>
<circle cx="358.7" cy="272.1" r="4.05" fill="#b52026" stroke="#481616" stroke-width="1.1"/>
<circle cx="367.3" cy="275.9" r="4.05" fill="#b52026" stroke="#481616" stroke-width="1.1"/>
<circle cx="345.3" cy="275" r="4.05" fill="#b52026" stroke="#481616" stroke-width="1.1"/>
<circle cx="347.2" cy="279.8" r="4.05" fill="#b52026" stroke="#481616" stroke-width="1.1"/>
<circle cx="320.3" cy="278.8" r="4.05" fill="#b52026" stroke="#481616" stroke-width="1.1"/>
<circle cx="330.9" cy="279.2" r="4.05" fill="#b52026" stroke="#481616" stroke-width="1.1"/>
<circle cx="337.6" cy="279.8" r="4.05" fill="#b52026" stroke="#481616" stroke-width="1.1"/>
<circle cx="302.6" cy="284.9" r="4.05" fill="#b52026" stroke="#481616" stroke-width="1.1"/>
<circle cx="322.6" cy="285.5" r="4.05" fill="#b52026" stroke="#481616" stroke-width="1.1"/>
<circle cx="326.1" cy="289.3" r="4.05" fill="#b52026" stroke="#481616" stroke-width="1.1"/>
<circle cx="337.2" cy="287.4" r="4.05" fill="#b52026" stroke="#481616" stroke-width="1.1"/>
<circle cx="391.7" cy="247.1" r="4.05" fill="#b52026" stroke="#481616" stroke-width="1.1"/>
<circle cx="383.6" cy="259.9" r="4.05" fill="#b52026" stroke="#481616" stroke-width="1.1"/>
<circle cx="419.3" cy="257.9" r="4.05" fill="#b52026" stroke="#481616" stroke-width="1.1"/>
<circle cx="451.1" cy="263.6" r="4.05" fill="#b52026" stroke="#481616" stroke-width="1.1"/>
<circle cx="379.6" cy="268.9" r="4.05" fill="#b52026" stroke="#481616" stroke-width="1.1"/>
<circle cx="377.6" cy="273.8" r="4.05" fill="#b52026" stroke="#481616" stroke-width="1.1"/>
<circle cx="383.6" cy="273.8" r="4.05" fill="#b52026" stroke="#481616" stroke-width="1.1"/>
<circle cx="382.8" cy="283.1" r="4.05" fill="#b52026" stroke="#481616" stroke-width="1.1"/>
<line x1="286.7" y1="279.9" x2="451.1" y2="260.6" stroke="#000" stroke-width="1.9" stroke-dasharray="11 3 1.7 3"/>
<rect x="284.8" y="192.6" width="58" height="12.2" rx="1.5" fill="#a0a0a0" opacity="0.85"/>
<rect x="282.8" y="190.6" width="58" height="12.2" rx="1.5" fill="#ffffff" stroke="#d5d5d5" stroke-width="0.8"/>
<line x1="286.4" y1="196.7" x2="297.2" y2="196.7" stroke="#000" stroke-width="1.9"/>
<circle cx="300.4" cy="196.7" r="0.8" fill="#000"/>
<text x="307.4" y="199.5" font-size="7.85" fill="#222">r = 0.233</text>
<text x="269" y="217.6" font-size="8.0" fill="#333" text-anchor="end">3</text>
<text x="269" y="243.2" font-size="8.0" fill="#333" text-anchor="end">2</text>
<text x="269" y="268.8" font-size="8.0" fill="#333" text-anchor="end">1</text>
<text x="269" y="294.4" font-size="8.0" fill="#333" text-anchor="end">0</text>
<text x="269" y="320" font-size="8.0" fill="#333" text-anchor="end">−1</text>
<text x="299" y="341.85" font-size="8.0" fill="#333" text-anchor="middle">10</text>
<text x="341.7" y="341.85" font-size="8.0" fill="#333" text-anchor="middle">12</text>
<text x="384.4" y="341.85" font-size="8.0" fill="#333" text-anchor="middle">14</text>
<text x="427.1" y="341.85" font-size="8.0" fill="#333" text-anchor="middle">16</text>
<text x="369" y="354.2" font-size="8.4" fill="#333" text-anchor="middle">Neu. VEIR (<tspan font-style="italic">μM</tspan>)</text>
<text x="0" y="0" font-size="9.35" fill="#333" text-anchor="middle" transform="translate(253.8,260.3) rotate(-90)">Log<tspan font-size="6.2" dy="1.9">10</tspan><tspan dy="-1.9"> </tspan>Cit-H3 DNA Signal</text>
<rect x="61" y="392.8" width="180" height="129.2" fill="#fff"/>
<line x1="61" y1="396.25" x2="241" y2="396.25" stroke="#d9d9d9" stroke-width="1.3"/>
<line x1="61" y1="415.7" x2="241" y2="415.7" stroke="#d9d9d9" stroke-width="1.3"/>
<line x1="61" y1="435.15" x2="241" y2="435.15" stroke="#d9d9d9" stroke-width="1.3"/>
<line x1="61" y1="454.6" x2="241" y2="454.6" stroke="#d9d9d9" stroke-width="1.3"/>
<line x1="61" y1="474.05" x2="241" y2="474.05" stroke="#d9d9d9" stroke-width="1.3"/>
<line x1="61" y1="493.5" x2="241" y2="493.5" stroke="#d9d9d9" stroke-width="1.3"/>
<line x1="61" y1="512.95" x2="241" y2="512.95" stroke="#d9d9d9" stroke-width="1.3"/>
<rect x="61" y="392.8" width="180" height="129.2" fill="none" stroke="#cfcfcf" stroke-width="1.4"/>
<text x="49.5" y="399.15" font-size="8.4" fill="#333" stroke="#333" stroke-width="0.08" text-anchor="end">2.5</text>
<text x="49.5" y="418.6" font-size="8.4" fill="#333" stroke="#333" stroke-width="0.08" text-anchor="end">2.0</text>
<text x="49.5" y="438.05" font-size="8.4" fill="#333" stroke="#333" stroke-width="0.08" text-anchor="end">1.5</text>
<text x="49.5" y="457.5" font-size="8.4" fill="#333" stroke="#333" stroke-width="0.08" text-anchor="end">1.0</text>
<text x="49.5" y="476.95" font-size="8.4" fill="#333" stroke="#333" stroke-width="0.08" text-anchor="end">0.5</text>
<text x="49.5" y="496.4" font-size="8.4" fill="#333" stroke="#333" stroke-width="0.08" text-anchor="end">0.0</text>
<text x="49.5" y="515.85" font-size="8.4" fill="#333" stroke="#333" stroke-width="0.08" text-anchor="end">−0.5</text>
<line x1="91" y1="426.8" x2="91" y2="460.9" stroke="#151515" stroke-width="1.7"/>
<line x1="91" y1="490.2" x2="91" y2="516.4" stroke="#151515" stroke-width="1.7"/>
<line x1="83" y1="426.8" x2="99" y2="426.8" stroke="#151515" stroke-width="1.7"/>
<line x1="83" y1="516.4" x2="99" y2="516.4" stroke="#151515" stroke-width="1.7"/>
<rect x="75.8" y="460.9" width="30.4" height="29.3" fill="#4fbdd2" stroke="#4d4d55" stroke-width="1.1"/>
<line x1="75.8" y1="483.7" x2="106.2" y2="483.7" stroke="#111" stroke-width="1.5"/>
<circle cx="86.3" cy="460.6" r="1.85" fill="#12c2e6" stroke="#000" stroke-width="1.05"/>
<circle cx="90.8" cy="462.1" r="1.85" fill="#12c2e6" stroke="#000" stroke-width="1.05"/>
<circle cx="86.9" cy="468.9" r="1.85" fill="#12c2e6" stroke="#000" stroke-width="1.05"/>
<circle cx="98.1" cy="468.3" r="1.85" fill="#12c2e6" stroke="#000" stroke-width="1.05"/>
<circle cx="94" cy="471.2" r="1.85" fill="#12c2e6" stroke="#000" stroke-width="1.05"/>
<circle cx="89.9" cy="473.6" r="1.85" fill="#12c2e6" stroke="#000" stroke-width="1.05"/>
<circle cx="86.7" cy="477.8" r="1.85" fill="#12c2e6" stroke="#000" stroke-width="1.05"/>
<circle cx="93.4" cy="476.3" r="1.85" fill="#12c2e6" stroke="#000" stroke-width="1.05"/>
<circle cx="90.8" cy="480.7" r="1.85" fill="#12c2e6" stroke="#000" stroke-width="1.05"/>
<circle cx="81" cy="483.4" r="1.85" fill="#12c2e6" stroke="#000" stroke-width="1.05"/>
<circle cx="86.1" cy="484.3" r="1.85" fill="#12c2e6" stroke="#000" stroke-width="1.05"/>
<circle cx="90.8" cy="485.4" r="1.85" fill="#12c2e6" stroke="#000" stroke-width="1.05"/>
<circle cx="95.2" cy="483.7" r="1.85" fill="#12c2e6" stroke="#000" stroke-width="1.05"/>
<circle cx="72.7" cy="488.4" r="1.85" fill="#12c2e6" stroke="#000" stroke-width="1.05"/>
<circle cx="76.8" cy="491" r="1.85" fill="#12c2e6" stroke="#000" stroke-width="1.05"/>
<circle cx="81.9" cy="491.7" r="1.85" fill="#12c2e6" stroke="#000" stroke-width="1.05"/>
<circle cx="87.2" cy="488.8" r="1.85" fill="#12c2e6" stroke="#000" stroke-width="1.05"/>
<circle cx="94.6" cy="489.8" r="1.85" fill="#12c2e6" stroke="#000" stroke-width="1.05"/>
<circle cx="98.7" cy="487.2" r="1.85" fill="#12c2e6" stroke="#000" stroke-width="1.05"/>
<circle cx="105.5" cy="488.8" r="1.85" fill="#12c2e6" stroke="#000" stroke-width="1.05"/>
<circle cx="101.1" cy="491.7" r="1.85" fill="#12c2e6" stroke="#000" stroke-width="1.05"/>
<circle cx="90.8" cy="492.5" r="1.85" fill="#12c2e6" stroke="#000" stroke-width="1.05"/>
<circle cx="83.9" cy="496.1" r="1.85" fill="#12c2e6" stroke="#000" stroke-width="1.05"/>
<circle cx="88.4" cy="498.5" r="1.85" fill="#12c2e6" stroke="#000" stroke-width="1.05"/>
<circle cx="93.2" cy="496.7" r="1.85" fill="#12c2e6" stroke="#000" stroke-width="1.05"/>
<circle cx="97.5" cy="494.6" r="1.85" fill="#12c2e6" stroke="#000" stroke-width="1.05"/>
<circle cx="90.8" cy="502.4" r="1.85" fill="#12c2e6" stroke="#000" stroke-width="1.05"/>
<circle cx="90.8" cy="508.3" r="1.85" fill="#12c2e6" stroke="#000" stroke-width="1.05"/>
<circle cx="86.7" cy="513.6" r="1.85" fill="#12c2e6" stroke="#000" stroke-width="1.05"/>
<circle cx="90.8" cy="516.6" r="1.85" fill="#12c2e6" stroke="#000" stroke-width="1.05"/>
<circle cx="87" cy="427.3" r="1.85" fill="#12c2e6" stroke="#000" stroke-width="1.05"/>
<circle cx="93.7" cy="427.1" r="1.85" fill="#12c2e6" stroke="#000" stroke-width="1.05"/>
<circle cx="90.8" cy="430.9" r="1.85" fill="#12c2e6" stroke="#000" stroke-width="1.05"/>
<circle cx="83.5" cy="441.2" r="1.85" fill="#12c2e6" stroke="#000" stroke-width="1.05"/>
<circle cx="87.3" cy="444.7" r="1.85" fill="#12c2e6" stroke="#000" stroke-width="1.05"/>
<circle cx="93.4" cy="443.5" r="1.85" fill="#12c2e6" stroke="#000" stroke-width="1.05"/>
<circle cx="98.6" cy="443.2" r="1.85" fill="#12c2e6" stroke="#000" stroke-width="1.05"/>
<circle cx="90.8" cy="448" r="1.85" fill="#12c2e6" stroke="#000" stroke-width="1.05"/>
<circle cx="94" cy="458.6" r="1.85" fill="#12c2e6" stroke="#000" stroke-width="1.05"/>
<text x="92" y="538.9" font-size="8.7" fill="#3a3a3a" stroke="#3a3a3a" stroke-width="0.05" text-anchor="middle">Band 1</text>
<text x="93.4" y="546.6" font-size="8.5" fill="#3a3a3a" stroke="#3a3a3a" stroke-width="0.05" text-anchor="middle" word-spacing="1.2">n = 39</text>
<line x1="151" y1="448.2" x2="151" y2="463.8" stroke="#151515" stroke-width="1.7"/>
<line x1="151" y1="485.1" x2="151" y2="489.8" stroke="#151515" stroke-width="1.7"/>
<line x1="143" y1="448.2" x2="159" y2="448.2" stroke="#151515" stroke-width="1.7"/>
<line x1="143" y1="489.8" x2="159" y2="489.8" stroke="#151515" stroke-width="1.7"/>
<rect x="135.8" y="463.8" width="30.4" height="21.3" fill="#afaff3" stroke="#4d4d55" stroke-width="1.1"/>
<line x1="135.8" y1="474" x2="166.2" y2="474" stroke="#111" stroke-width="1.5"/>
<circle cx="150.8" cy="448.2" r="1.85" fill="#7d78ee" stroke="#000" stroke-width="1.05"/>
<circle cx="150.8" cy="454.7" r="1.85" fill="#7d78ee" stroke="#000" stroke-width="1.05"/>
<circle cx="155.7" cy="454.7" r="1.85" fill="#7d78ee" stroke="#000" stroke-width="1.05"/>
<circle cx="143.8" cy="463.4" r="1.85" fill="#7d78ee" stroke="#000" stroke-width="1.05"/>
<circle cx="148.8" cy="464.9" r="1.85" fill="#7d78ee" stroke="#000" stroke-width="1.05"/>
<circle cx="153.4" cy="464" r="1.85" fill="#7d78ee" stroke="#000" stroke-width="1.05"/>
<circle cx="150.8" cy="469.3" r="1.85" fill="#7d78ee" stroke="#000" stroke-width="1.05"/>
<circle cx="143.2" cy="473.8" r="1.85" fill="#7d78ee" stroke="#000" stroke-width="1.05"/>
<circle cx="148.2" cy="474" r="1.85" fill="#7d78ee" stroke="#000" stroke-width="1.05"/>
<circle cx="153.7" cy="474" r="1.85" fill="#7d78ee" stroke="#000" stroke-width="1.05"/>
<circle cx="150.8" cy="477.7" r="1.85" fill="#7d78ee" stroke="#000" stroke-width="1.05"/>
<circle cx="142.6" cy="484.3" r="1.85" fill="#7d78ee" stroke="#000" stroke-width="1.05"/>
<circle cx="153.1" cy="484.8" r="1.85" fill="#7d78ee" stroke="#000" stroke-width="1.05"/>
<circle cx="157.8" cy="484.5" r="1.85" fill="#7d78ee" stroke="#000" stroke-width="1.05"/>
<circle cx="146.1" cy="487.8" r="1.85" fill="#7d78ee" stroke="#000" stroke-width="1.05"/>
<circle cx="150.8" cy="489.8" r="1.85" fill="#7d78ee" stroke="#000" stroke-width="1.05"/>
<circle cx="155.7" cy="489.2" r="1.85" fill="#7d78ee" stroke="#000" stroke-width="1.05"/>
<text x="152" y="538.9" font-size="8.7" fill="#3a3a3a" stroke="#3a3a3a" stroke-width="0.05" text-anchor="middle">Band 2</text>
<text x="153.4" y="546.6" font-size="8.5" fill="#3a3a3a" stroke="#3a3a3a" stroke-width="0.05" text-anchor="middle" word-spacing="1.2">n = 17</text>
<line x1="211" y1="443.3" x2="211" y2="457.1" stroke="#151515" stroke-width="1.7"/>
<line x1="211" y1="472.7" x2="211" y2="488.7" stroke="#151515" stroke-width="1.7"/>
<line x1="203" y1="443.3" x2="219" y2="443.3" stroke="#151515" stroke-width="1.7"/>
<line x1="203" y1="488.7" x2="219" y2="488.7" stroke="#151515" stroke-width="1.7"/>
<rect x="195.8" y="457.1" width="30.4" height="15.6" fill="#6a7394" stroke="#4d4d55" stroke-width="1.1"/>
<line x1="195.8" y1="465.4" x2="226.2" y2="465.4" stroke="#111" stroke-width="1.5"/>
<circle cx="210.9" cy="398.6" r="1.95" fill="#16266a" stroke="#000" stroke-width="1.05"/>
<circle cx="210.9" cy="430.9" r="1.95" fill="#16266a" stroke="#000" stroke-width="1.05"/>
<circle cx="206.8" cy="443.3" r="1.95" fill="#16266a" stroke="#000" stroke-width="1.05"/>
<circle cx="210.9" cy="446.5" r="1.95" fill="#16266a" stroke="#000" stroke-width="1.05"/>
<circle cx="214.8" cy="450.9" r="1.95" fill="#16266a" stroke="#000" stroke-width="1.05"/>
<circle cx="210.9" cy="454.2" r="1.95" fill="#16266a" stroke="#000" stroke-width="1.05"/>
<circle cx="202.2" cy="458.6" r="1.95" fill="#16266a" stroke="#000" stroke-width="1.05"/>
<circle cx="206.8" cy="458.6" r="1.95" fill="#16266a" stroke="#000" stroke-width="1.05"/>
<circle cx="214.1" cy="457.6" r="1.95" fill="#16266a" stroke="#000" stroke-width="1.05"/>
<circle cx="210.9" cy="461.5" r="1.95" fill="#16266a" stroke="#000" stroke-width="1.05"/>
<circle cx="217.8" cy="461" r="1.95" fill="#16266a" stroke="#000" stroke-width="1.05"/>
<circle cx="205.4" cy="465.4" r="1.95" fill="#16266a" stroke="#000" stroke-width="1.05"/>
<circle cx="210.9" cy="466.3" r="1.95" fill="#16266a" stroke="#000" stroke-width="1.05"/>
<circle cx="215.6" cy="465.1" r="1.95" fill="#16266a" stroke="#000" stroke-width="1.05"/>
<circle cx="201.7" cy="469.2" r="1.95" fill="#16266a" stroke="#000" stroke-width="1.05"/>
<circle cx="219.9" cy="468" r="1.95" fill="#16266a" stroke="#000" stroke-width="1.05"/>
<circle cx="206.1" cy="471.7" r="1.95" fill="#16266a" stroke="#000" stroke-width="1.05"/>
<circle cx="215.3" cy="470.2" r="1.95" fill="#16266a" stroke="#000" stroke-width="1.05"/>
<circle cx="210.9" cy="472.1" r="1.95" fill="#16266a" stroke="#000" stroke-width="1.05"/>
<circle cx="206.1" cy="479.4" r="1.95" fill="#16266a" stroke="#000" stroke-width="1.05"/>
<circle cx="210.9" cy="479.7" r="1.95" fill="#16266a" stroke="#000" stroke-width="1.05"/>
<circle cx="217.8" cy="482.6" r="1.95" fill="#16266a" stroke="#000" stroke-width="1.05"/>
<circle cx="212.7" cy="484.8" r="1.95" fill="#16266a" stroke="#000" stroke-width="1.05"/>
<circle cx="206.8" cy="486.7" r="1.95" fill="#16266a" stroke="#000" stroke-width="1.05"/>
<circle cx="210.9" cy="489.1" r="1.95" fill="#16266a" stroke="#000" stroke-width="1.05"/>
<text x="212" y="538.9" font-size="8.7" fill="#3a3a3a" stroke="#3a3a3a" stroke-width="0.05" text-anchor="middle">Band 3</text>
<text x="213.4" y="546.6" font-size="8.5" fill="#3a3a3a" stroke="#3a3a3a" stroke-width="0.05" text-anchor="middle" word-spacing="1.2">n = 25</text>
<text x="151" y="386.4" font-size="9.25" fill="#333" stroke="#333" stroke-width="0.12" text-anchor="middle">Log<tspan font-size="5.8" dy="1.8">10</tspan><tspan dy="-1.8"> </tspan>NE DNA Signal</text>
<line x1="90.8" y1="422" x2="210.8" y2="422" stroke="#8c8c8c" stroke-width="1.3"/>
<path d="M146.8 418.7L146.8 413.3M144.46 417.35L149.14 414.65M144.46 414.65L149.14 417.35" stroke="#1a1a1a" stroke-width="1.0" stroke-linecap="round" fill="none"/>
<path d="M154.3 418.7L154.3 413.3M151.96 417.35L156.64 414.65M151.96 414.65L156.64 417.35" stroke="#1a1a1a" stroke-width="1.0" stroke-linecap="round" fill="none"/>
<rect x="284" y="392.8" width="180" height="129.2" fill="#fff"/>
<line x1="284" y1="405.2" x2="464" y2="405.2" stroke="#d9d9d9" stroke-width="1.3"/>
<line x1="284" y1="436.9" x2="464" y2="436.9" stroke="#d9d9d9" stroke-width="1.3"/>
<line x1="284" y1="468.6" x2="464" y2="468.6" stroke="#d9d9d9" stroke-width="1.3"/>
<line x1="284" y1="500.3" x2="464" y2="500.3" stroke="#d9d9d9" stroke-width="1.3"/>
<rect x="284" y="392.8" width="180" height="129.2" fill="none" stroke="#cfcfcf" stroke-width="1.4"/>
<text x="273.5" y="408.1" font-size="8.4" fill="#333" stroke="#333" stroke-width="0.08" text-anchor="end">3</text>
<text x="273.5" y="439.8" font-size="8.4" fill="#333" stroke="#333" stroke-width="0.08" text-anchor="end">2</text>
<text x="273.5" y="471.5" font-size="8.4" fill="#333" stroke="#333" stroke-width="0.08" text-anchor="end">1</text>
<text x="273.5" y="503.2" font-size="8.4" fill="#333" stroke="#333" stroke-width="0.08" text-anchor="end">0</text>
<line x1="314" y1="454.8" x2="314" y2="474.2" stroke="#151515" stroke-width="1.7"/>
<line x1="314" y1="493" x2="314" y2="516" stroke="#151515" stroke-width="1.7"/>
<line x1="306" y1="454.8" x2="322" y2="454.8" stroke="#151515" stroke-width="1.7"/>
<line x1="306" y1="516" x2="322" y2="516" stroke="#151515" stroke-width="1.7"/>
<rect x="298.8" y="474.2" width="30.4" height="18.8" fill="#4fbdd2" stroke="#4d4d55" stroke-width="1.1"/>
<line x1="298.8" y1="486" x2="329.2" y2="486" stroke="#111" stroke-width="1.5"/>
<circle cx="314" cy="403.7" r="1.85" fill="#12c2e6" stroke="#000" stroke-width="1.05"/>
<circle cx="314.2" cy="454.8" r="1.85" fill="#12c2e6" stroke="#000" stroke-width="1.05"/>
<circle cx="314.2" cy="464.2" r="1.85" fill="#12c2e6" stroke="#000" stroke-width="1.05"/>
<circle cx="296.3" cy="470.5" r="1.85" fill="#12c2e6" stroke="#000" stroke-width="1.05"/>
<circle cx="300.3" cy="473.1" r="1.85" fill="#12c2e6" stroke="#000" stroke-width="1.05"/>
<circle cx="307.8" cy="472.1" r="1.85" fill="#12c2e6" stroke="#000" stroke-width="1.05"/>
<circle cx="312.5" cy="473.4" r="1.85" fill="#12c2e6" stroke="#000" stroke-width="1.05"/>
<circle cx="317.2" cy="473" r="1.85" fill="#12c2e6" stroke="#000" stroke-width="1.05"/>
<circle cx="324.6" cy="473.4" r="1.85" fill="#12c2e6" stroke="#000" stroke-width="1.05"/>
<circle cx="329.5" cy="473" r="1.85" fill="#12c2e6" stroke="#000" stroke-width="1.05"/>
<circle cx="304.4" cy="475.9" r="1.85" fill="#12c2e6" stroke="#000" stroke-width="1.05"/>
<circle cx="309" cy="477.8" r="1.85" fill="#12c2e6" stroke="#000" stroke-width="1.05"/>
<circle cx="314.2" cy="477.8" r="1.85" fill="#12c2e6" stroke="#000" stroke-width="1.05"/>
<circle cx="320.8" cy="476.2" r="1.85" fill="#12c2e6" stroke="#000" stroke-width="1.05"/>
<circle cx="318.5" cy="480.4" r="1.85" fill="#12c2e6" stroke="#000" stroke-width="1.05"/>
<circle cx="314.2" cy="483" r="1.85" fill="#12c2e6" stroke="#000" stroke-width="1.05"/>
<circle cx="299.7" cy="484.9" r="1.85" fill="#12c2e6" stroke="#000" stroke-width="1.05"/>
<circle cx="304.4" cy="484.9" r="1.85" fill="#12c2e6" stroke="#000" stroke-width="1.05"/>
<circle cx="309.3" cy="486.4" r="1.85" fill="#12c2e6" stroke="#000" stroke-width="1.05"/>
<circle cx="314.2" cy="487.7" r="1.85" fill="#12c2e6" stroke="#000" stroke-width="1.05"/>
<circle cx="318.9" cy="486.8" r="1.85" fill="#12c2e6" stroke="#000" stroke-width="1.05"/>
<circle cx="326.2" cy="487.7" r="1.85" fill="#12c2e6" stroke="#000" stroke-width="1.05"/>
<circle cx="330" cy="484.9" r="1.85" fill="#12c2e6" stroke="#000" stroke-width="1.05"/>
<circle cx="304.2" cy="490.2" r="1.85" fill="#12c2e6" stroke="#000" stroke-width="1.05"/>
<circle cx="308.7" cy="491.7" r="1.85" fill="#12c2e6" stroke="#000" stroke-width="1.05"/>
<circle cx="313.4" cy="493" r="1.85" fill="#12c2e6" stroke="#000" stroke-width="1.05"/>
<circle cx="318" cy="491.5" r="1.85" fill="#12c2e6" stroke="#000" stroke-width="1.05"/>
<circle cx="323.1" cy="491.5" r="1.85" fill="#12c2e6" stroke="#000" stroke-width="1.05"/>
<circle cx="333.6" cy="492.4" r="1.85" fill="#12c2e6" stroke="#000" stroke-width="1.05"/>
<circle cx="296.8" cy="494.6" r="1.85" fill="#12c2e6" stroke="#000" stroke-width="1.05"/>
<circle cx="301.9" cy="495.8" r="1.85" fill="#12c2e6" stroke="#000" stroke-width="1.05"/>
<circle cx="306.7" cy="496.2" r="1.85" fill="#12c2e6" stroke="#000" stroke-width="1.05"/>
<circle cx="315" cy="497.5" r="1.85" fill="#12c2e6" stroke="#000" stroke-width="1.05"/>
<circle cx="319.8" cy="496.2" r="1.85" fill="#12c2e6" stroke="#000" stroke-width="1.05"/>
<circle cx="324.6" cy="496.2" r="1.85" fill="#12c2e6" stroke="#000" stroke-width="1.05"/>
<circle cx="329.5" cy="494.9" r="1.85" fill="#12c2e6" stroke="#000" stroke-width="1.05"/>
<circle cx="310.3" cy="499.7" r="1.85" fill="#12c2e6" stroke="#000" stroke-width="1.05"/>
<circle cx="314.2" cy="503" r="1.85" fill="#12c2e6" stroke="#000" stroke-width="1.05"/>
<circle cx="314.2" cy="516" r="1.85" fill="#12c2e6" stroke="#000" stroke-width="1.05"/>
<text x="315" y="538.9" font-size="8.7" fill="#3a3a3a" stroke="#3a3a3a" stroke-width="0.05" text-anchor="middle">Band 1</text>
<text x="316.4" y="546.6" font-size="8.5" fill="#3a3a3a" stroke="#3a3a3a" stroke-width="0.05" text-anchor="middle" word-spacing="1.2">n = 39</text>
<line x1="374" y1="470" x2="374" y2="476.4" stroke="#151515" stroke-width="1.7"/>
<line x1="374" y1="485.6" x2="374" y2="496.8" stroke="#151515" stroke-width="1.7"/>
<line x1="366" y1="470" x2="382" y2="470" stroke="#151515" stroke-width="1.7"/>
<line x1="366" y1="496.8" x2="382" y2="496.8" stroke="#151515" stroke-width="1.7"/>
<rect x="358.8" y="476.4" width="30.4" height="9.2" fill="#afaff3" stroke="#4d4d55" stroke-width="1.1"/>
<line x1="358.8" y1="479.8" x2="389.2" y2="479.8" stroke="#111" stroke-width="1.5"/>
<circle cx="371.9" cy="470" r="1.85" fill="#7d78ee" stroke="#000" stroke-width="1.05"/>
<circle cx="376.7" cy="472.1" r="1.85" fill="#7d78ee" stroke="#000" stroke-width="1.05"/>
<circle cx="369" cy="475.1" r="1.85" fill="#7d78ee" stroke="#000" stroke-width="1.05"/>
<circle cx="374.2" cy="476.4" r="1.85" fill="#7d78ee" stroke="#000" stroke-width="1.05"/>
<circle cx="387.5" cy="475.6" r="1.85" fill="#7d78ee" stroke="#000" stroke-width="1.05"/>
<circle cx="364.4" cy="478.5" r="1.85" fill="#7d78ee" stroke="#000" stroke-width="1.05"/>
<circle cx="369.3" cy="480.2" r="1.85" fill="#7d78ee" stroke="#000" stroke-width="1.05"/>
<circle cx="374.2" cy="481.5" r="1.85" fill="#7d78ee" stroke="#000" stroke-width="1.05"/>
<circle cx="378.9" cy="479.8" r="1.85" fill="#7d78ee" stroke="#000" stroke-width="1.05"/>
<circle cx="383.6" cy="479.2" r="1.85" fill="#7d78ee" stroke="#000" stroke-width="1.05"/>
<circle cx="369" cy="484.9" r="1.85" fill="#7d78ee" stroke="#000" stroke-width="1.05"/>
<circle cx="374.2" cy="486.2" r="1.85" fill="#7d78ee" stroke="#000" stroke-width="1.05"/>
<circle cx="378.9" cy="484.9" r="1.85" fill="#7d78ee" stroke="#000" stroke-width="1.05"/>
<circle cx="383.6" cy="484.9" r="1.85" fill="#7d78ee" stroke="#000" stroke-width="1.05"/>
<circle cx="376.7" cy="492" r="1.85" fill="#7d78ee" stroke="#000" stroke-width="1.05"/>
<circle cx="369" cy="494.8" r="1.85" fill="#7d78ee" stroke="#000" stroke-width="1.05"/>
<circle cx="374.2" cy="496.8" r="1.85" fill="#7d78ee" stroke="#000" stroke-width="1.05"/>
<text x="375" y="538.9" font-size="8.7" fill="#3a3a3a" stroke="#3a3a3a" stroke-width="0.05" text-anchor="middle">Band 2</text>
<text x="376.4" y="546.6" font-size="8.5" fill="#3a3a3a" stroke="#3a3a3a" stroke-width="0.05" text-anchor="middle" word-spacing="1.2">n = 17</text>
<line x1="434" y1="445.4" x2="434" y2="463" stroke="#151515" stroke-width="1.7"/>
<line x1="434" y1="481.6" x2="434" y2="493.7" stroke="#151515" stroke-width="1.7"/>
<line x1="426" y1="445.4" x2="442" y2="445.4" stroke="#151515" stroke-width="1.7"/>
<line x1="426" y1="493.7" x2="442" y2="493.7" stroke="#151515" stroke-width="1.7"/>
<rect x="418.8" y="463" width="30.4" height="18.6" fill="#6a7394" stroke="#4d4d55" stroke-width="1.1"/>
<line x1="418.8" y1="472.6" x2="449.2" y2="472.6" stroke="#111" stroke-width="1.5"/>
<circle cx="434" cy="398.7" r="1.95" fill="#16266a" stroke="#000" stroke-width="1.05"/>
<circle cx="434.2" cy="445.4" r="1.95" fill="#16266a" stroke="#000" stroke-width="1.05"/>
<circle cx="434.2" cy="454.7" r="1.95" fill="#16266a" stroke="#000" stroke-width="1.05"/>
<circle cx="441.4" cy="458.9" r="1.95" fill="#16266a" stroke="#000" stroke-width="1.05"/>
<circle cx="436.3" cy="460.2" r="1.95" fill="#16266a" stroke="#000" stroke-width="1.05"/>
<circle cx="427.8" cy="462" r="1.95" fill="#16266a" stroke="#000" stroke-width="1.05"/>
<circle cx="432.5" cy="463.3" r="1.95" fill="#16266a" stroke="#000" stroke-width="1.05"/>
<circle cx="438.5" cy="465.3" r="1.95" fill="#16266a" stroke="#000" stroke-width="1.05"/>
<circle cx="434.2" cy="467.9" r="1.95" fill="#16266a" stroke="#000" stroke-width="1.05"/>
<circle cx="424.4" cy="470" r="1.95" fill="#16266a" stroke="#000" stroke-width="1.05"/>
<circle cx="429" cy="471.7" r="1.95" fill="#16266a" stroke="#000" stroke-width="1.05"/>
<circle cx="438.5" cy="470.7" r="1.95" fill="#16266a" stroke="#000" stroke-width="1.05"/>
<circle cx="434.2" cy="472.6" r="1.95" fill="#16266a" stroke="#000" stroke-width="1.05"/>
<circle cx="425.5" cy="476.1" r="1.95" fill="#16266a" stroke="#000" stroke-width="1.05"/>
<circle cx="430.6" cy="477.3" r="1.95" fill="#16266a" stroke="#000" stroke-width="1.05"/>
<circle cx="442.3" cy="475.8" r="1.95" fill="#16266a" stroke="#000" stroke-width="1.05"/>
<circle cx="438" cy="478.1" r="1.95" fill="#16266a" stroke="#000" stroke-width="1.05"/>
<circle cx="434.2" cy="480.7" r="1.95" fill="#16266a" stroke="#000" stroke-width="1.05"/>
<circle cx="424.8" cy="481.6" r="1.95" fill="#16266a" stroke="#000" stroke-width="1.05"/>
<circle cx="442.3" cy="480.9" r="1.95" fill="#16266a" stroke="#000" stroke-width="1.05"/>
<circle cx="429" cy="484.8" r="1.95" fill="#16266a" stroke="#000" stroke-width="1.05"/>
<circle cx="438.5" cy="484.1" r="1.95" fill="#16266a" stroke="#000" stroke-width="1.05"/>
<circle cx="434.2" cy="485.4" r="1.95" fill="#16266a" stroke="#000" stroke-width="1.05"/>
<circle cx="431.2" cy="489.6" r="1.95" fill="#16266a" stroke="#000" stroke-width="1.05"/>
<circle cx="434.2" cy="493.7" r="1.95" fill="#16266a" stroke="#000" stroke-width="1.05"/>
<text x="435" y="538.9" font-size="8.7" fill="#3a3a3a" stroke="#3a3a3a" stroke-width="0.05" text-anchor="middle">Band 3</text>
<text x="436.4" y="546.6" font-size="8.5" fill="#3a3a3a" stroke="#3a3a3a" stroke-width="0.05" text-anchor="middle" word-spacing="1.2">n = 25</text>
<text x="374" y="386.4" font-size="9.6" fill="#333" stroke="#333" stroke-width="0.12" text-anchor="middle">Log<tspan font-size="5.8" dy="1.8">10</tspan><tspan dy="-1.8"> </tspan>Cit-H3 DNA Signal</text>
<line x1="314.2" y1="437.3" x2="433.8" y2="437.3" stroke="#3a3a3a" stroke-width="1.3"/>
<path d="M366.6 434L366.6 428.6M364.26 432.65L368.94 429.95M364.26 429.95L368.94 432.65" stroke="#1a1a1a" stroke-width="1.0" stroke-linecap="round" fill="none"/>
<path d="M374.1 434L374.1 428.6M371.76 432.65L376.44 429.95M371.76 429.95L376.44 432.65" stroke="#1a1a1a" stroke-width="1.0" stroke-linecap="round" fill="none"/>
<path d="M381.6 434L381.6 428.6M379.26 432.65L383.94 429.95M379.26 429.95L383.94 432.65" stroke="#1a1a1a" stroke-width="1.0" stroke-linecap="round" fill="none"/>
</svg>
</body></html>
